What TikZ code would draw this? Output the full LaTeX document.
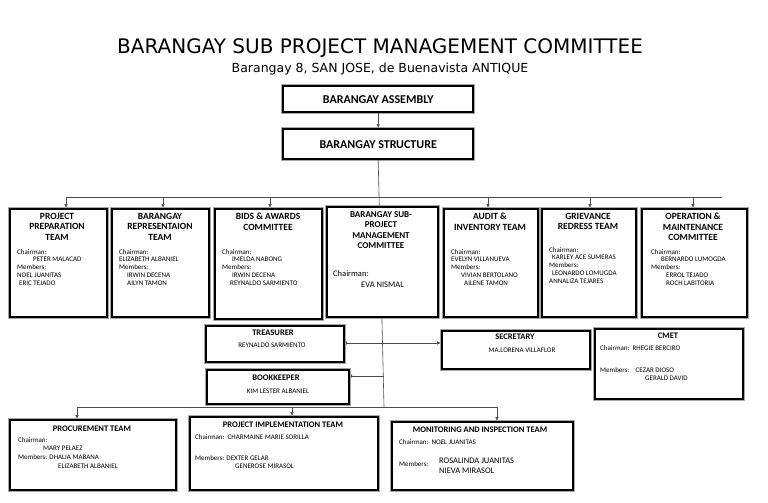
\documentclass[tikz,border=0pt]{standalone}
\usepackage{fontspec}
\usetikzlibrary{arrows.meta}
\setmainfont{Carlito}
\newfontfamily\dv{DejaVu Sans}
\begin{document}
\begin{tikzpicture}[x=1pt,y=-1pt,
 box/.style={draw=black,fill=white,line width=2.4pt,anchor=north west,inner sep=0pt,
   preaction={draw=gray!70,line width=3.6pt}},
 hd/.style={font=\fontsize{9.5}{10.5}\selectfont\bfseries,align=center,inner sep=0pt},
 tx/.style={font=\fontsize{7}{8.8}\selectfont,align=left,inner sep=0pt,anchor=north west},
 ln/.style={draw=gray!60!black,line width=0.6pt},
 arr/.style={ln,-{Latex[length=4pt,width=3.5pt]}}]
\useasboundingbox (0,0) rectangle (768,503);
\fill[white] (0,0) rectangle (768,503);
\node[font=\dv\fontsize{20}{22}\selectfont] (title) at (380,48) {BARANGAY SUB PROJECT MANAGEMENT COMMITTEE};
\node[font=\dv\fontsize{12.5}{14}\selectfont] (sub) at (380,69) {Barangay 8, SAN JOSE, de Buenavista ANTIQUE};
% top boxes
\node[box,minimum width=190,minimum height=26] (ba) at (282,85) {};
\node[hd,font=\fontsize{12}{13}\selectfont\bfseries] at (ba.center) {BARANGAY ASSEMBLY};
\node[box,minimum width=190,minimum height=30] (bs) at (282,128) {};
\node[hd,font=\fontsize{12}{13}\selectfont\bfseries] at (bs.center) {BARANGAY STRUCTURE};
% connectors (drawn before the boxes that cover them)
\coordinate (v2) at (384,407);
\draw[arr] (ba.south) -- (bs.north);
\draw[ln] (bs.south) -- (v2);
\draw[ln] (66,197) -- (722,197);
\foreach \x in {66,163,270,488,590,693}{\draw[arr] (\x,197) -- (\x,208);}
\draw[arr] (384,343) -- (343,343);
\draw[arr] (384,343) -- (441,343);
\draw[arr] (384,376) -- (348,376);
\draw[ln] (77,407) -- (497,407);
\draw[arr] (77,407) -- (77,419);
\draw[arr] (292,407) -- (292,416);
\draw[arr] (497,407) -- (497,421);
% row boxes
\node[box,minimum width=97,minimum height=108] (ppt) at (9,208) {};
\node[box,minimum width=97,minimum height=108] (brt) at (111,208) {};
\node[box,minimum width=107,minimum height=110] (bac) at (214,208) {};
\node[box,minimum width=111,minimum height=110] (bsp) at (326,206) {};
\node[box,minimum width=94,minimum height=108] (ait) at (443,208) {};
\node[box,minimum width=94,minimum height=108] (grt) at (541,208) {};
\node[box,minimum width=105,minimum height=108] (omc) at (641,208) {};
% headings top row
\node[hd,anchor=north] at (57,213) {PROJECT\\PREPARATION\\TEAM};
\node[tx] at (17,249) {Chairman:\\[-1pt]\hspace*{16pt}PETER MALACAD\\[-1pt]Members:\\[-1pt]NOEL JUANITAS\\[-1pt]\hspace*{2pt}ERIC TEJADO};
\node[hd,anchor=north] at (160,213) {BARANGAY\\REPRESENTAION\\TEAM};
\node[tx] at (119,249) {Chairman:\\[-1pt]ELIZABETH ALBANIEL\\[-1pt]Members:\\[-1pt]\hspace*{8pt}IRWIN DECENA\\[-1pt]\hspace*{8pt}AILYN TAMON};
\node[hd,anchor=north] at (268,213) {BIDS \& AWARDS\\COMMITTEE};
\node[tx] at (222,249) {Chairman:\\[-1pt]\hspace*{10pt}IMELDA NABONG\\[-1pt]Members:\\[-1pt]\hspace*{10pt}IRWIN DECENA\\[-1pt]\hspace*{8pt}REYNALDO SARMIENTO};
\node[hd,anchor=north,font=\fontsize{9}{10.5}\selectfont\bfseries] at (381,211) {BARANGAY SUB-\\PROJECT\\MANAGEMENT\\COMMITTEE};
\node[tx,font=\fontsize{8.5}{11}\selectfont] at (333,270) {Chairman:\\\hspace*{28pt}EVA NISMAL};
\node[hd,anchor=north] at (490,213) {AUDIT \&\\INVENTORY TEAM};
\node[tx] at (451,249) {Chairman:\\[-1pt]EVELYN VILLANUEVA\\[-1pt]Members:\\[-1pt]\hspace*{10pt}VIVIAN BERTOLANO\\[-1pt]\hspace*{13pt}AILENE TAMON};
\node[hd,anchor=north] at (588,213) {GRIEVANCE\\REDRESS TEAM};
\node[tx] at (549,247) {Chairman:\\[-1pt]\hspace*{3pt}KARLEY ACE SUMERAS\\[-1pt]Members:\\[-1pt]\hspace*{3pt}LEONARDO LOMUGDA\\[-1pt]ANNALIZA TEJARES};
\node[hd,anchor=north] at (693,213) {OPERATION \&\\MAINTENANCE\\COMMITTEE};
\node[tx] at (651,249) {Chairman:\\[-1pt]\hspace*{10pt}BERNARDO LUMOGDA\\[-1pt]Members:\\[-1pt]\hspace*{15pt}ERROL TEJADO\\[-1pt]\hspace*{15pt}ROCH LABITORIA};
% middle
\node[box,minimum width=138,minimum height=36] (tre) at (205,325) {};
\node[hd,anchor=north,font=\fontsize{8.5}{9}\selectfont\bfseries] at (273,330) {TREASURER};
\node[tx,anchor=north] at (272,343) {REYNALDO SARMIENTO};
\node[box,minimum width=148,minimum height=38] (sec) at (441,330) {};
\node[hd,anchor=north,font=\fontsize{8.5}{9}\selectfont\bfseries] at (515,334) {SECRETARY};
\node[tx,anchor=north] at (522,348) {MA.LORENA VILLAFLOR};
\node[box,minimum width=148,minimum height=70] (cmet) at (594,328) {};
\node[hd,anchor=north,font=\fontsize{8.5}{9}\selectfont\bfseries] at (668,333) {CMET};
\node[tx] at (600,345) {Chairman:\ \ RHEGIE BERCIRO};
\node[tx] at (600,367) {Members:\ \ \ \ CEZAR DIOSO\\[0pt]\hspace*{45pt}GERALD DAVID};
\node[box,minimum width=142,minimum height=34] (bk) at (206,369) {};
\node[hd,anchor=north,font=\fontsize{8.5}{9}\selectfont\bfseries] at (276,375) {BOOKKEEPER};
\node[tx,anchor=north] at (278,389) {KIM LESTER ALBANIEL};
% bottom
\node[box,minimum width=166,minimum height=70] (pro) at (9,419) {};
\node[box,minimum width=188,minimum height=73] (pit) at (189,416) {};
\node[box,minimum width=181,minimum height=68] (mit) at (391,421) {};
\node[hd,anchor=north,font=\fontsize{8.5}{9}\selectfont\bfseries] at (92,426) {PROCUREMENT TEAM};
\node[tx] at (18,437) {Chairman:\\[0pt]\hspace*{25pt}MARY PELAEZ\\[0pt]Members: DHALIA MABANA\\[0pt]\hspace*{40pt}ELIZABETH ALBANIEL};
\node[hd,anchor=north,font=\fontsize{8.5}{9}\selectfont\bfseries] at (283,422) {PROJECT IMPLEMENTATION TEAM};
\node[tx] at (195,434) {Chairman:\ \ CHARMAINE MARIE SORILLA};
\node[tx] at (195,455) {Members: DEXTER GELAR\\[0pt]\hspace*{40pt}GENEROSE MIRASOL};
\node[hd,anchor=north,font=\fontsize{8.5}{9}\selectfont\bfseries] at (480,427) {MONITORING AND INSPECTION TEAM};
\node[tx] at (399,439) {Chairman:\ \ NOEL JUANITAS};
\node[tx] at (399,461) {Members:};
\node[tx,font=\fontsize{8.5}{10}\selectfont] at (439,458) {ROSALINDA JUANITAS\\NIEVA MIRASOL};
\end{tikzpicture}
\end{document}
